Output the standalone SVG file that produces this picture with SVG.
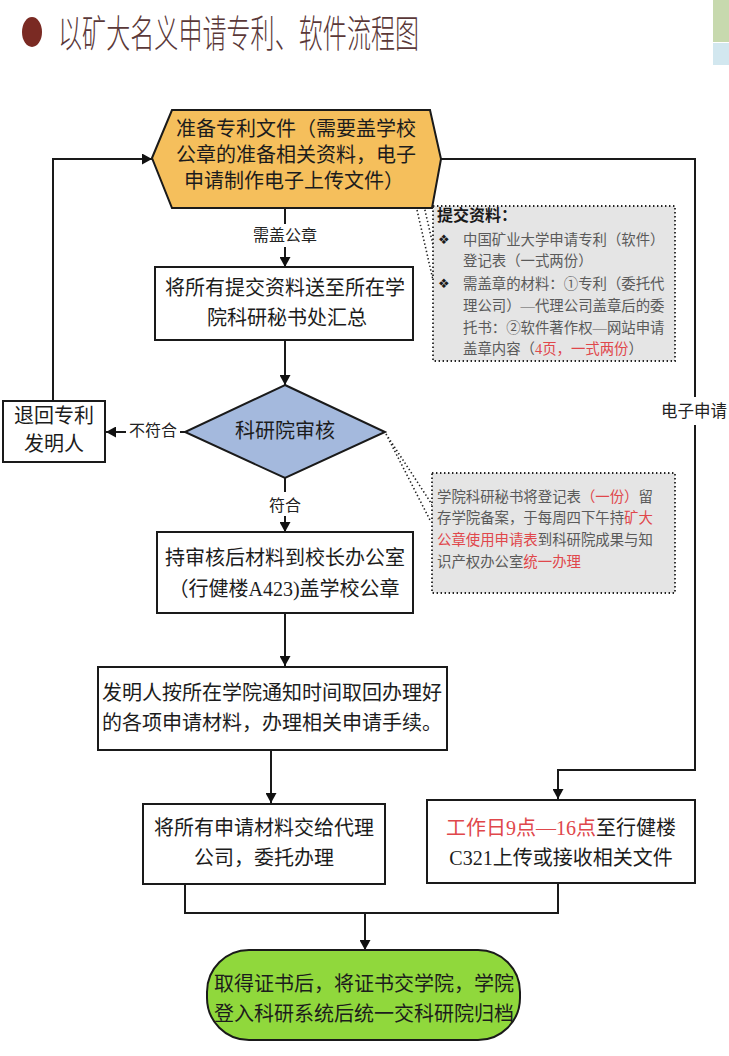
<svg xmlns="http://www.w3.org/2000/svg" width="729" height="1056" viewBox="0 0 729 1056">
  <defs>
    <marker id="arrow" viewBox="0 0 10 11" markerWidth="10" markerHeight="11" refX="10" refY="5.5" markerUnits="userSpaceOnUse" orient="auto">
      <path d="M0,0 L10,5.5 L0,11 z" fill="#111"/>
    </marker>
    <style>
      .box { fill: #ffffff; stroke: #1a1a1a; stroke-width: 2; }
      .conn { fill: none; stroke: #1a1a1a; stroke-width: 2; }
      .dots { fill: none; stroke: #222; stroke-width: 1.6; stroke-dasharray: 1.4 2.4; }
      .note { fill: #e5e5e5; stroke: #222; stroke-width: 1.8; stroke-dasharray: 1.4 2.6; }
      .t { font-family: "Liberation Serif", "Noto Sans CJK SC", serif; font-size: 20px; fill: #1c1c1c; text-anchor: middle; }
      .lbl { font-family: "Liberation Serif", "Noto Sans CJK SC", serif; font-size: 16px; fill: #222; text-anchor: middle; }
      .n { font-family: "Liberation Serif", "Noto Sans CJK SC", serif; font-size: 14.4px; fill: #5a5a5a; }
      .red { fill: #e0474b; }
      .bul { font-family: "DejaVu Sans", sans-serif; font-size: 13px; fill: #1a1a1a; }
    </style>
  </defs>

  <rect width="729" height="1056" fill="#ffffff"/>

  <!-- corner tabs -->
  <rect x="713" y="0" width="16" height="42" fill="#c7d9ae"/>
  <rect x="713" y="43" width="16" height="22" fill="#d2e7ef"/>

  <!-- heading -->
  <g id="title">
    <ellipse cx="32" cy="32" rx="10" ry="15" fill="#7a2a23"/>
    <text transform="translate(58,47) scale(0.634,1)" x="0" y="0" font-family="Noto Sans CJK SC, sans-serif" font-size="38" font-weight="300" fill="#5a3838">以矿大名义申请专利、软件流程图</text>
  </g>

  <!-- connectors -->
  <g id="connectors">
    <path class="conn" d="M53,401 V159 H152" marker-end="url(#arrow)"/>
    <path class="conn" d="M441,159 H695 V397"/>
    <path class="conn" d="M695,425 V770 H558 V799" marker-end="url(#arrow)"/>
    <path class="conn" d="M285,208 V224"/>
    <path class="conn" d="M285,247 V267" marker-end="url(#arrow)"/>
    <path class="conn" d="M285,340 V385" marker-end="url(#arrow)"/>
    <path class="conn" d="M185,432 H180"/>
    <path class="conn" d="M126,432 H106" marker-end="url(#arrow)"/>
    <path class="conn" d="M285,478 V492"/>
    <path class="conn" d="M285,516 V532" marker-end="url(#arrow)"/>
    <path class="conn" d="M285,613 V666" marker-end="url(#arrow)"/>
    <path class="conn" d="M271,750 V803" marker-end="url(#arrow)"/>
    <path class="conn" d="M185,884 V913 H558 V883"/>
    <path class="conn" d="M365,913 V950" marker-end="url(#arrow)"/>
    <text class="lbl" x="285" y="241">需盖公章</text>
    <text class="lbl" x="153" y="436">不符合</text>
    <text class="lbl" x="285" y="511">符合</text>
    <text class="lbl" x="694" y="417" style="font-size:16.5px">电子申请</text>
    <!-- callout pointers -->
    <path class="dots" d="M417,210 L433,280 M424,206 L433,245"/>
    <path class="dots" d="M386,434 L433,506 M386,434 L431,522"/>
  </g>

  <g id="prepare">
    <polygon points="152,158 172,110 430,110 441,159 432,208 172,208" fill="#f5bf5c" stroke="#1a1a1a" stroke-width="2"/>
    <text class="t" x="296" y="136">准备专利文件（需要盖学校</text>
    <text class="t" x="296" y="162">公章的准备相关资料，电子</text>
    <text class="t" x="294" y="188">申请制作电子上传文件）</text>
  </g>

  <g id="submit">
    <rect class="box" x="155" y="267" width="258" height="73"/>
    <text class="t" x="285" y="295">将所有提交资料送至所在学</text>
    <text class="t" x="287" y="325">院科研秘书处汇总</text>
  </g>

  <g id="review">
    <polygon points="285,385 385,432 285,478 185,432" fill="#a4b9dd" stroke="#1a1a1a" stroke-width="2"/>
    <text class="t" x="285" y="438">科研院审核</text>
  </g>

  <g id="return">
    <rect class="box" x="3" y="401" width="102" height="61"/>
    <text class="t" x="54" y="423">退回专利</text>
    <text class="t" x="54" y="451">发明人</text>
  </g>

  <g id="stamp">
    <rect class="box" x="157" y="532" width="256" height="81"/>
    <text class="t" x="285" y="565">持审核后材料到校长办公室</text>
    <text class="t" x="284" y="596">（行健楼A423)盖学校公章</text>
  </g>

  <g id="collect">
    <rect class="box" x="98" y="667" width="349" height="83"/>
    <text class="t" x="272" y="700">发明人按所在学院通知时间取回办理好</text>
    <text class="t" x="272" y="730">的各项申请材料，办理相关申请手续。</text>
  </g>

  <g id="agent">
    <rect class="box" x="143" y="804" width="242" height="80"/>
    <text class="t" x="264" y="835">将所有申请材料交给代理</text>
    <text class="t" x="264" y="865">公司，委托办理</text>
  </g>

  <g id="upload">
    <rect class="box" x="427" y="800" width="268" height="83"/>
    <text class="t" x="561" y="835"><tspan class="red">工作日9点—16点</tspan>至行健楼</text>
    <text class="t" x="561" y="865">C321上传或接收相关文件</text>
  </g>

  <g id="archive">
    <rect x="207" y="950" width="313" height="90" rx="42" ry="42" fill="#90d83c" stroke="#1a1a1a" stroke-width="2"/>
    <text class="t" x="364" y="991">取得证书后，将证书交学院，学院</text>
    <text class="t" x="364" y="1021">登入科研系统后统一交科研院归档</text>
  </g>

  <g id="materials-note">
    <rect class="note" x="433" y="206" width="242" height="155"/>
    <text x="437" y="221" font-family="Liberation Serif, Noto Sans CJK SC, serif" font-size="16" font-weight="bold" fill="#1a1a1a">提交资料：</text>
    <text class="bul" x="438" y="244">❖</text>
    <text class="n" x="463" y="245">中国矿业大学申请专利（软件）</text>
    <text class="n" x="463" y="266">登记表（一式两份）</text>
    <text class="bul" x="438" y="288">❖</text>
    <text class="n" x="463" y="289">需盖章的材料：①专利（委托代</text>
    <text class="n" x="463" y="311">理公司）—代理公司盖章后的委</text>
    <text class="n" x="463" y="333">托书：②软件著作权—网站申请</text>
    <text class="n" x="463" y="354">盖章内容（<tspan class="red">4页，一式两份</tspan>）</text>
  </g>

  <g id="secretary-note">
    <rect class="note" x="432" y="473" width="243" height="120"/>
    <text class="n" x="437" y="502">学院科研秘书将登记表<tspan class="red">（一份）</tspan>留</text>
    <text class="n" x="437" y="523">存学院备案，于每周四下午持<tspan class="red">矿大</tspan></text>
    <text class="n" x="437" y="545"><tspan class="red">公章使用申请表</tspan>到科研院成果与知</text>
    <text class="n" x="437" y="567">识产权办公室<tspan class="red">统一办理</tspan></text>
  </g>
</svg>
